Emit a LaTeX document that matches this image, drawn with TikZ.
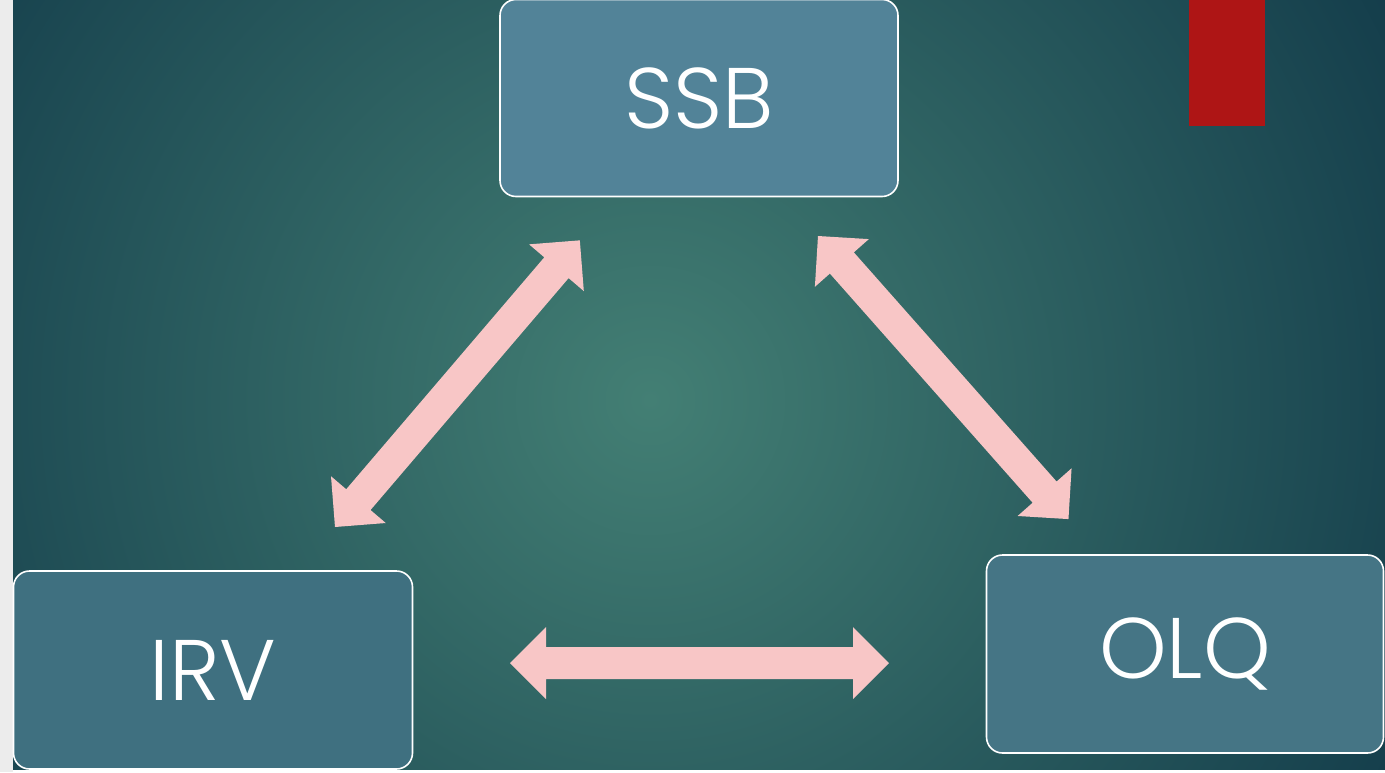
\documentclass[tikz,border=0pt]{standalone}
\usepackage{fontspec}
\setmainfont{Poppins}[UprightFont=* Light]
\definecolor{bgin}{HTML}{437F74}
\definecolor{bgout}{HTML}{0E3546}
\definecolor{pinkar}{HTML}{F8C6C6}
\definecolor{redbar}{HTML}{AE1515}
\tikzset{
  box/.style={draw=white,line width=1.6pt,rounded corners=16pt,text=white,font=\fontsize{86}{86}\selectfont},
  darr/.style={fill=pinkar},
}
\newcommand{\dblarrow}[1]{\fill[darr] (0,0) -- (36,-36) -- (36,-16) -- (#1-36,-16) -- (#1-36,-36) -- (#1,0) -- (#1-36,36) -- (#1-36,16) -- (36,16) -- (36,36) -- cycle;}
\begin{document}
\begin{tikzpicture}[x=1pt,y=-1pt]
\useasboundingbox (0,0) rectangle (1385,772);
\fill[gray!15] (0,0) rectangle (13,772);
\begin{scope}
\clip (13,0) rectangle (1385,770);
\shade[inner color=bgin,outer color=bgout] (-300,-550) rectangle (1600,1350);
\end{scope}
\fill[white] (13,770) rectangle (1385,772);
\fill[redbar] (1189,0) rectangle (1265,126);
\node[box,fill={rgb,255:red,82;green,131;blue,152},minimum width=398pt,minimum height=197pt] (ssb) at (699,98) {SSB};
\node[box,fill={rgb,255:red,63;green,112;blue,128},minimum width=399pt,minimum height=198pt] (irv) at (213,670) {IRV};
\node[box,fill={rgb,255:red,69;green,117;blue,133},minimum width=397pt,minimum height=198pt] (olq) at (1185,654) {OLQ};
\begin{scope}[shift={(510,663)}]\dblarrow{379}\end{scope}
\begin{scope}[shift={(335,527)},rotate=49.5]\dblarrow{377}\end{scope}
\begin{scope}[shift={(818,236)},rotate=-48.5]\dblarrow{378}\end{scope}
\end{tikzpicture}
\end{document}
